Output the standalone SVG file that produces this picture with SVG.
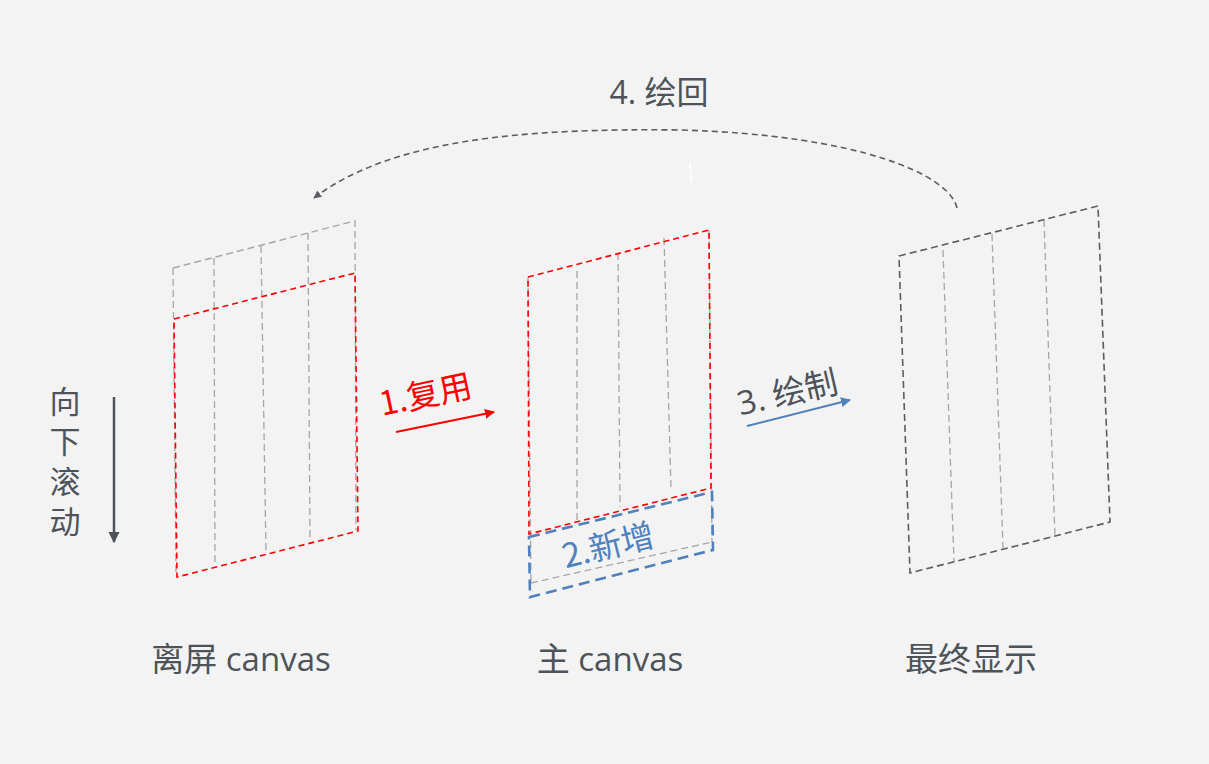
<svg xmlns="http://www.w3.org/2000/svg" width="1209" height="764" viewBox="0 0 1209 764">
<defs>
<style>
.t{font-family:"Open Sans","Noto Sans CJK SC",sans-serif;fill:#4e535a}
.cj{font-family:"Noto Sans CJK SC","Open Sans",sans-serif}
.v{writing-mode:vertical-rl;letter-spacing:9px}
.g{fill:none;stroke:#a6a6a6;stroke-width:1.3;stroke-dasharray:7 4}
.r{fill:none;stroke:#ff0000;stroke-width:1.6;stroke-dasharray:6 4}
.b{fill:none;stroke:#4f81bd;stroke-width:2.6;stroke-dasharray:11 6}
.d{fill:none;stroke:#5a5d62;stroke-width:1.6;stroke-dasharray:7 4}
</style>
<marker id="ah-gray" viewBox="0 0 10 10" refX="9" refY="5" markerWidth="5" markerHeight="5" orient="auto"><path d="M0,0 L10,5 L0,10 z" fill="#5a5d62"/></marker>
<marker id="ah-red" viewBox="0 0 10 10" refX="9" refY="5" markerWidth="5" markerHeight="5" orient="auto"><path d="M0,0 L10,5 L0,10 z" fill="#ff0000"/></marker>
<marker id="ah-blue" viewBox="0 0 10 10" refX="9" refY="5" markerWidth="5" markerHeight="5" orient="auto"><path d="M0,0 L10,5 L0,10 z" fill="#4f81bd"/></marker>
<marker id="ah-dark" viewBox="0 0 10 10" refX="9" refY="5" markerWidth="4.5" markerHeight="4.5" orient="auto"><path d="M0,0 L10,5 L0,10 z" fill="#4e535a"/></marker>
</defs>
<rect width="1209" height="764" fill="#f3f3f3"/>

<g id="offscreen-canvas">
<path class="g" d="M173,268 L355,221 L356,530 M173,268 L176,572"/>
<path class="g" d="M214,258 L215,566 M261,246 L266,553 M308,233 L310,541"/>
<path class="r" d="M174,319 L355,273 L358,531 L177,577 Z"/>
</g>

<g id="main-canvas">
<path class="g" d="M528,277 L531,584 M709,230 L712,542"/>
<path class="g" d="M577,271 L577,522 M618,253 L620,507 M664,238 L671,489"/>
<path class="g" d="M531,583 L712,542"/>
<path class="r" d="M528,277 L709,230 L711,488 L529,534 Z"/>
<path class="b" d="M529,537 L712,492 L713,550 L530,597 Z"/>
<text class="t cj" x="0" y="0" font-size="33" style="fill:#4f81bd" text-anchor="middle" transform="translate(611,557) rotate(-14)">2.新增</text>
</g>

<g id="final-display">
<path class="g" d="M943,250 L954,562 M992,234 L1003,548 M1044,220 L1055,537"/>
<path class="d" d="M899,256 L1098,206 L1110,522 L910,573 Z"/>
</g>

<g id="connectors">
<path d="M957,208 C950,175 860,135 680,130 C520,128 390,140 314,198" fill="none" stroke="#5a5d62" stroke-width="1.6" stroke-dasharray="6 4" marker-end="url(#ah-gray)"/>
<line x1="396" y1="432" x2="494" y2="412" stroke="#ff0000" stroke-width="2" marker-end="url(#ah-red)"/>
<line x1="747" y1="426" x2="850" y2="400" stroke="#4f81bd" stroke-width="2" marker-end="url(#ah-blue)"/>
<line x1="114" y1="397" x2="114" y2="542" stroke="#4e535a" stroke-width="2.5" marker-end="url(#ah-dark)"/>
</g>

<line x1="690" y1="163" x2="691.5" y2="182" stroke="#ffffff" stroke-width="1.5"/>

<text class="t" x="659" y="104" font-size="32" text-anchor="middle">4. 绘回</text>
<text class="t cj" x="0" y="0" font-size="33" style="fill:#ff0000" text-anchor="middle" transform="translate(428,406) rotate(-12)">1.复用</text>
<text class="t" x="0" y="0" font-size="33" text-anchor="middle" transform="translate(790,404) rotate(-13)">3. 绘制</text>

<text class="t cj v" x="65" y="386" font-size="31">向下滚动</text>

<text class="t" x="241" y="671" font-size="33" text-anchor="middle">离屏 canvas</text>
<text class="t" x="610" y="671" font-size="33" text-anchor="middle">主 canvas</text>
<text class="t" x="971" y="671" font-size="33" text-anchor="middle">最终显示</text>
</svg>
